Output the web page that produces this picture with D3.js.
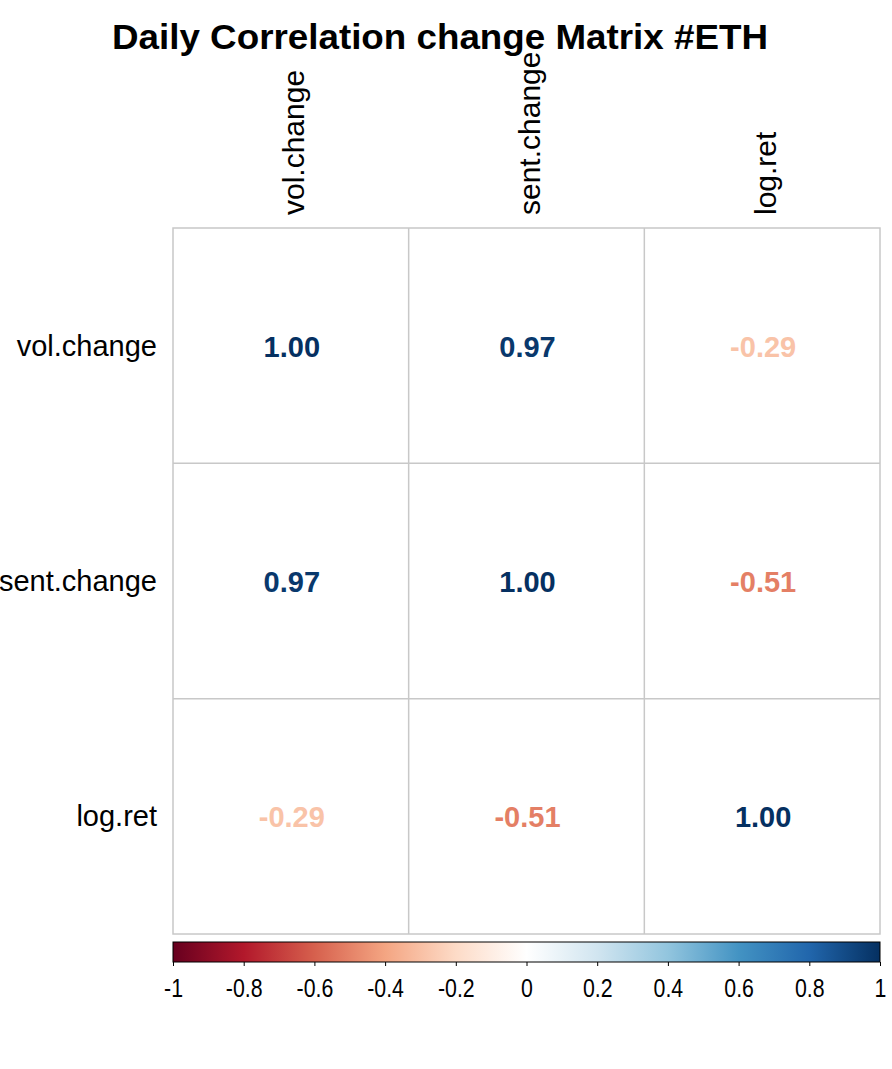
<!doctype html>
<html>
  <head>
    <title>Daily Correlation change Matrix #ETH</title>
    <script src="https://cdnjs.cloudflare.com/ajax/libs/d3/7.8.5/d3.min.js"></script>
    <style>
      body { margin: 0; background: #fff; }
      svg { display: block; font-family: "Liberation Sans", Arial, sans-serif; }
      line.grid, rect.frame { stroke: #c8c8c8; stroke-width: 1.5; fill: none; }
      text.title { font-weight: bold; font-size: 35px; }
      text.lab { font-size: 29px; fill: #000; }
      text.collab { font-size: 30px; }
      text.val { font-weight: bold; font-size: 29px; }
    </style>
  </head>
  <body>
    <svg width="892" height="1069"></svg>
    <script>
      var vars = ["vol.change", "sent.change", "log.ret"];
      var corr = [
        [1.00, 0.97, -0.29],
        [0.97, 1.00, -0.51],
        [-0.29, -0.51, 1.00]
      ];
      var legendTicks = [-1, -0.8, -0.6, -0.4, -0.2, 0, 0.2, 0.4, 0.6, 0.8, 1];
      // corrplot RdBu palette
      var palette = ["#67001F", "#B2182B", "#D6604D", "#F4A582", "#FDDBC7", "#FFFFFF",
                     "#D1E5F0", "#92C5DE", "#4393C3", "#2166AC", "#053061"];

      var svg = d3.select("svg");

      var x = d3.scaleBand().domain(vars).range([173, 880]);
      var y = d3.scaleBand().domain(vars).range([228, 934]);
      var color = d3.scaleLinear()
        .domain(d3.range(palette.length).map(i => -1 + 2 * i / (palette.length - 1)))
        .range(palette);

      svg.append("text")
        .attr("class", "title")
        .attr("x", 440).attr("y", 49)
        .attr("text-anchor", "middle")
        .attr("textLength", 656)
        .attr("lengthAdjust", "spacingAndGlyphs")
        .text("Daily Correlation change Matrix #ETH");

      // cells
      var cells = [];
      corr.forEach((row, i) => row.forEach((v, j) => cells.push({r: vars[i], c: vars[j], v: v})));

      svg.selectAll("text.val").data(cells)
        .enter()
        .append("text")
          .attr("class", "val")
          .attr("x", d => x(d.c) + x.bandwidth() / 2 + 1)
          .attr("y", d => y(d.r) + y.bandwidth() / 2 + 1)
          .attr("dy", "0.35em")
          .attr("text-anchor", "middle")
          .attr("fill", d => color(d.v))
          .text(d => d.v.toFixed(2));

      // grid
      svg.selectAll("line.gv").data(vars.slice(1))
        .enter()
        .append("line")
          .attr("class", "grid")
          .attr("x1", d => x(d)).attr("x2", d => x(d))
          .attr("y1", y.range()[0]).attr("y2", y.range()[1]);
      svg.selectAll("line.gh").data(vars.slice(1))
        .enter()
        .append("line")
          .attr("class", "grid")
          .attr("y1", d => y(d)).attr("y2", d => y(d))
          .attr("x1", x.range()[0]).attr("x2", x.range()[1]);
      svg.append("rect")
        .attr("class", "frame")
        .attr("x", x.range()[0]).attr("y", y.range()[0])
        .attr("width", x.range()[1] - x.range()[0])
        .attr("height", y.range()[1] - y.range()[0]);

      // row labels
      svg.selectAll("text.rowlab").data(vars)
        .enter()
        .append("text")
          .attr("class", "lab rowlab")
          .attr("text-anchor", "end")
          .attr("dy", "0.35em")
          .attr("transform", d => "translate(157," + (y(d) + y.bandwidth() / 2) + ")")
          .text(d => d);

      // column labels
      svg.selectAll("text.collab").data(vars)
        .enter()
        .append("text")
          .attr("class", "lab collab")
          .attr("text-anchor", "start")
          .attr("dy", "0.35em")
          .attr("transform", d => "translate(" + (x(d) + x.bandwidth() / 2 + 3) + ",215) rotate(-90)")
          .text(d => d);

      // colour legend
      var lx = d3.scaleLinear().domain([-1, 1]).range([173, 880]);
      var grad = svg.append("defs").append("linearGradient")
        .attr("id", "rdbu").attr("x1", "0%").attr("x2", "100%");
      grad.selectAll("stop").data(color.domain())
        .enter()
        .append("stop")
          .attr("offset", d => ((d + 1) / 2 * 100) + "%")
          .attr("stop-color", d => color(d));

      svg.append("rect")
        .attr("x", lx(-1)).attr("y", 942)
        .attr("width", lx(1) - lx(-1)).attr("height", 20)
        .attr("fill", "url(#rdbu)")
        .attr("stroke", "#000").attr("stroke-width", 1);

      var axis = d3.axisBottom(lx)
        .tickValues(legendTicks)
        .tickSize(4)
        .tickFormat(d => String(+d.toFixed(1)));
      var g = svg.append("g")
        .attr("class", "legend")
        .attr("transform", "translate(0,962)")
        .call(axis);
      g.select(".domain").remove();
      // taller, narrower digits as in the original
      g.selectAll(".tick text")
        .attr("font-size", 26)
        .attr("font-family", "'Liberation Sans', Arial, sans-serif")
        .attr("fill", "#000")
        .attr("y", 0).attr("dy", null)
        .attr("transform", "translate(0,35) scale(0.82,1)");
    </script>
  </body>
</html>
